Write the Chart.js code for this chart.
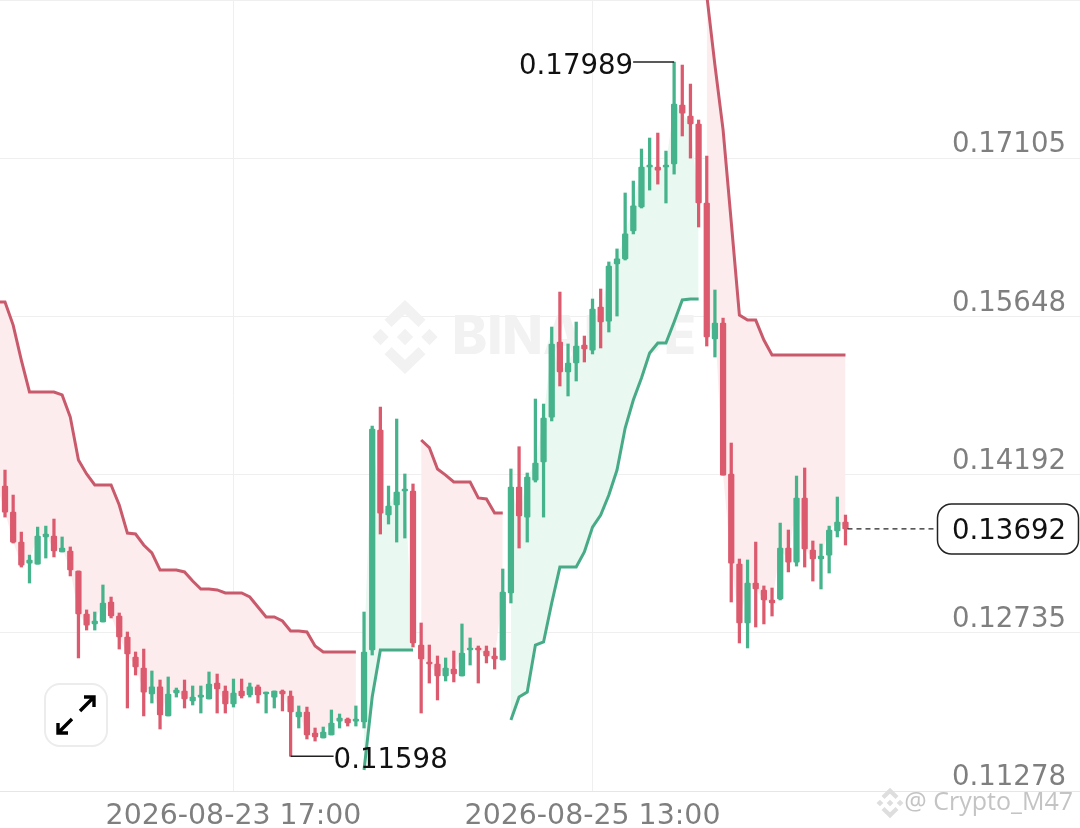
<!DOCTYPE html>
<html>
<head>
<meta charset="utf-8">
<title>Price chart</title>
<script src="https://cdn.jsdelivr.net/npm/chart.js@4/dist/chart.umd.min.js"></script>
<style>
    html, body { margin: 0; padding: 0; background: #fff; }
    #wrap { width: 1080px; height: 828px; }
</style>
</head>
<body>
<div id="wrap"><canvas id="priceChart" width="1080" height="828"></canvas></div>
<script>
// hourly candles, first one sits just off the left edge
const openPrices = [
    .14100,
    .14086,.13846,.13570,.13376,.13367,.13617,.13626,.13479,.13488,.13304,
    .12908,.12816,.12834,.13018,.12889,.12696,.12512,.12410,.12171,.12236,
    .11969,.12180,.12199,.12107,.12143,.12125,.12272,.12199,.12079,.12199,
    .12162,.12236,.12171,.12143,.12199,.12153,.11959,.12005,.11812,.11766,
    .11794,.11922,.11941,.11922,.11913,.12576,.14602,.13819,.13911,.14040,
    .14040,.12622,.12466,.12447,.12337,.12401,.12337,.12576,.12595,.12567,
    .12521,.12484,.13101,.14077,.13800,.14141,.14307,.14721,.15412,.15136,
    .15219,.15384,.15338,.15734,.15605,.16131,.16177,.16434,.16655,.17023,
    .17023,.17023,.17051,.17594,.17493,.17419,.16692,.15440,.15587,.14197,
    .13367,.12825,.13193,.13129,.13037,.13046,.13515,.13386,.13976,.13497,
    .13414,.13450,.13672,.13755
];
const closePrices = [
    .14086,
    .13846,.13570,.13358,.13405,.13626,.13644,.13488,.13515,.13313,.12908,
    .12806,.12843,.13009,.12889,.12696,.12539,.12420,.12189,.12236,.11978,
    .12171,.12208,.12125,.12143,.12162,.12263,.12217,.12079,.12180,.12153,
    .12236,.12162,.12189,.12199,.12171,.12005,.12005,.11794,.11775,.11821,
    .11904,.11950,.11904,.11941,.12558,.14611,.13837,.13902,.14031,.14058,
    .12641,.12493,.12447,.12337,.12410,.12355,.12549,.12595,.12576,.12521,
    .12493,.13110,.14077,.13810,.14169,.14298,.14712,.15394,.15136,.15219,
    .15375,.15348,.15716,.15596,.16112,.16177,.16407,.16665,.17023,.17041,
    .16995,.17041,.17603,.17520,.17419,.16692,.15458,.15587,.14187,.13376,
    .12825,.13193,.13138,.13037,.13009,.13515,.13386,.13976,.13506,.13414,
    .13442,.13681,.13755,.13692
];
const highPrices = [
    .14200,
    .14233,.14003,.13662,.13450,.13708,.13717,.13782,.13617,.13525,.13304,
    .12945,.12926,.13175,.13064,.12917,.12742,.12558,.12585,.12383,.12300,
    .12328,.12226,.12300,.12245,.12245,.12374,.12355,.12245,.12309,.12309,
    .12272,.12254,.12189,.12199,.12208,.12199,.12061,.12051,.11858,.11867,
    .12024,.11987,.11950,.12061,.12926,.14638,.14813,.14086,.14703,.14197,
    .14105,.12825,.12622,.12521,.12503,.12567,.12816,.12687,.12613,.12613,
    .12595,.13322,.14243,.14448,.14206,.14887,.14841,.15550,.15872,.15394,
    .15596,.15467,.15808,.15900,.16149,.16269,.16784,.16894,.17189,.17290,
    .17336,.17170,.17989,.17962,.17787,.17456,.17124,.15891,.15632,.14482,
    .13414,.13405,.13570,.13166,.13147,.13745,.13681,.14178,.14252,.13580,
    .13552,.13717,.13985,.13819
];
const lowPrices = [
    .14000,
    .13800,.13561,.13340,.13193,.13367,.13423,.13433,.13479,.13258,.12503,
    .12760,.12760,.12834,.12871,.12585,.12042,.12346,.11969,.12088,.11849,
    .11969,.12143,.12042,.12070,.11996,.12125,.11996,.11996,.12051,.12134,
    .12143,.12088,.11996,.12042,.12015,.11598,.11858,.11757,.11738,.11766,
    .11794,.11858,.11876,.11876,.11858,.12530,.13644,.13736,.13570,.13607,
    .12604,.11996,.12272,.12116,.12291,.12282,.12337,.12438,.12272,.12457,
    .12401,.12484,.13009,.13515,.13570,.14123,.13800,.14685,.15007,.14915,
    .15053,.15228,.15302,.15357,.15504,.15651,.16167,.16407,.16646,.16811,
    .16866,.16692,.16958,.17309,.17105,.16471,.15375,.15274,.14187,.13018,
    .12641,.12595,.12788,.12816,.12889,.13037,.13295,.13349,.13340,.13211,
    .13138,.13285,.13617,.13543
];

// supertrend stretches, each with the candle index it starts on
const trendDown1 = [
    .15781,.15781,.15568,.15246,.14952,.14952,.14952,.14952,.14925,.14721,.14325,
    .14197,.14096,.14096,.14096,.13911,.13653,.13644,.13543,.13470,.13313,
    .13313,.13313,.13295,.13211,.13138,.13138,.13129,.13101,.13101,.13101,
    .13064,.12972,.12880,.12880,.12843,.12751,.12751,.12742,.12613,.12558,
    .12558,.12558,.12558,.12558
];
const trendUp1 = [.11471,.12143,.12576,.12576,.12576,.12576,.12576];
const trendDown2 = [.14510,.14440,.14243,.14187,.14123,.14123,.14123,.13976,.13967,.13837,.13837];
const trendUp2 = [
    .11932,.12143,.12189,.12622,.12650,.13009,.13340,.13340,.13340,.13479,.13708,.13819,
    .14003,.14233,.14620,.14878,.15081,.15311,.15403,.15403,.15596,.15799,.15808,.15808
];
const trendDown3 = [
    .18607,.17962,.17365,.16517,.15660,.15614,.15614,.15430,
    .15292,.15292,.15292,.15292,.15292,.15292,.15292,.15292,.15292,.15292
];
const trendStarts = [0, 45, 52, 63, 87];

const priceTicks = [0.11278, 0.12735, 0.14192, 0.15648, 0.17105];
const topPrice = 0.18561;
const timeTickIndex = [29, 73];
const timeTickLabels = ['2026-08-23 17:00', '2026-08-25 13:00'];

const UP_COLOR = '#45b38b';
const DOWN_COLOR = '#dc5a6e';
const UP_LINE = '#47ab88';
const DOWN_LINE = '#c95a6c';
const UP_FILL = '#e9f8f1';
const DOWN_FILL = '#fdecee';
const FONT_FAMILY = '"DejaVu Sans", sans-serif';
const LABEL_SIZE = 27.6;

const candleColors = closePrices.map((c, i) => c >= openPrices[i] ? UP_COLOR : DOWN_COLOR);

function makeTrend(values, start, lineColor, fillColor) {
    return {
        type: 'line',
        data: values.map((v, i) => ({ x: start + i, y: v })),
        borderColor: lineColor,
        borderWidth: 3,
        pointRadius: 0,
        tension: 0,
        order: 4,
        fill: { target: 0, above: fillColor, below: fillColor }
    };
}

function drawDiamondLogo(ctx, cx, cy, r, color) {
    // four small squares and two chevrons
    const square = (x, y, s) => {
        ctx.beginPath();
        ctx.moveTo(x, y - s);
        ctx.lineTo(x + s, y);
        ctx.lineTo(x, y + s);
        ctx.lineTo(x - s, y);
        ctx.closePath();
        ctx.fill();
    };
    ctx.fillStyle = color;
    square(cx, cy, r * 0.24);
    square(cx - r * 0.72, cy, r * 0.24);
    square(cx + r * 0.72, cy, r * 0.24);
    ctx.strokeStyle = color;
    ctx.lineWidth = r * 0.3;
    ctx.beginPath();
    ctx.moveTo(cx - r * 0.5, cy - r * 0.4);
    ctx.lineTo(cx, cy - r * 0.88);
    ctx.lineTo(cx + r * 0.5, cy - r * 0.4);
    ctx.moveTo(cx - r * 0.5, cy + r * 0.4);
    ctx.lineTo(cx, cy + r * 0.88);
    ctx.lineTo(cx + r * 0.5, cy + r * 0.4);
    ctx.stroke();
}

const watermarkPlugin = {
    id: 'watermark',
    beforeDatasetsDraw(chart) {
        const ctx = chart.ctx;
        ctx.save();
        drawDiamondLogo(ctx, 405, 337, 34, '#f2f2f2');
        ctx.fillStyle = '#f2f2f2';
        ctx.font = '800 53px Inter, sans-serif';
        ctx.textAlign = 'left';
        ctx.textBaseline = 'middle';
        ctx.fillText('BINANCE', 452, 338);
        ctx.restore();
    }
};

const annotationPlugin = {
    id: 'annotations',
    afterDraw(chart) {
        const ctx = chart.ctx;
        const xs = chart.scales.x;
        const ys = chart.scales.y;
        const maxHigh = Math.max(...highPrices);
        const minLow = Math.min(...lowPrices);
        const lastIndex = closePrices.length - 1;
        const lastClose = closePrices[lastIndex];

        ctx.save();
        ctx.font = LABEL_SIZE + 'px ' + FONT_FAMILY;
        ctx.fillStyle = '#111';
        ctx.strokeStyle = '#222';
        ctx.lineWidth = 1.5;
        ctx.textBaseline = 'middle';

        // highest price
        const hx = xs.getPixelForValue(highPrices.indexOf(maxHigh));
        const hy = ys.getPixelForValue(maxHigh);
        ctx.beginPath();
        ctx.moveTo(hx, hy);
        ctx.lineTo(hx - 41, hy);
        ctx.stroke();
        ctx.textAlign = 'right';
        ctx.fillText(maxHigh.toFixed(5), hx - 41, hy + 5);

        // lowest price
        const lx = xs.getPixelForValue(lowPrices.indexOf(minLow));
        const ly = ys.getPixelForValue(minLow);
        ctx.beginPath();
        ctx.moveTo(lx, ly);
        ctx.lineTo(lx + 43, ly);
        ctx.stroke();
        ctx.textAlign = 'left';
        ctx.fillText(minLow.toFixed(5), lx + 43, ly + 5);

        // last price tag
        const py = ys.getPixelForValue(lastClose);
        ctx.setLineDash([5, 4]);
        ctx.lineWidth = 1.2;
        ctx.beginPath();
        ctx.moveTo(xs.getPixelForValue(lastIndex) + 2, py);
        ctx.lineTo(937, py);
        ctx.stroke();
        ctx.setLineDash([]);
        ctx.lineWidth = 1.5;
        ctx.beginPath();
        ctx.roundRect(937.5, 504, 141, 50, 14);
        ctx.fillStyle = '#fff';
        ctx.fill();
        ctx.stroke();
        ctx.fillStyle = '#111';
        ctx.textAlign = 'center';
        ctx.fillText(lastClose.toFixed(5), 1009, py + 3);

        // expand button
        ctx.strokeStyle = '#ececec';
        ctx.lineWidth = 2;
        ctx.beginPath();
        ctx.roundRect(45, 684, 62, 62, 15);
        ctx.fillStyle = '#fff';
        ctx.fill();
        ctx.stroke();
        ctx.strokeStyle = '#000';
        ctx.lineWidth = 3.4;
        ctx.beginPath();
        ctx.moveTo(80, 711);
        ctx.lineTo(94, 697);
        ctx.moveTo(84, 697);
        ctx.lineTo(94, 697);
        ctx.lineTo(94, 707);
        ctx.moveTo(72, 719);
        ctx.lineTo(58, 733);
        ctx.moveTo(58, 723);
        ctx.lineTo(58, 733);
        ctx.lineTo(68, 733);
        ctx.stroke();

        // author watermark
        drawDiamondLogo(ctx, 890, 803, 14, '#dedede');
        ctx.fillStyle = '#c4c4c4';
        ctx.font = '25px "Open Sans", sans-serif';
        ctx.textAlign = 'right';
        ctx.fillText('@ Crypto_M47', 1073, 803);
        ctx.restore();
    }
};

const ctx = document.getElementById('priceChart').getContext('2d');
const priceChart = new Chart(ctx, {
    type: 'bar',
    data: {
        datasets: [
            {
                // base the supertrend bands fill towards
                type: 'line',
                data: closePrices.map((c, i) => ({ x: i, y: c })),
                borderWidth: 0,
                borderColor: 'transparent',
                pointRadius: 0,
                tension: 0,
                fill: false,
                order: 5
            },
            makeTrend(trendDown1, trendStarts[0], DOWN_LINE, DOWN_FILL),
            makeTrend(trendUp1, trendStarts[1], UP_LINE, UP_FILL),
            makeTrend(trendDown2, trendStarts[2], DOWN_LINE, DOWN_FILL),
            makeTrend(trendUp2, trendStarts[3], UP_LINE, UP_FILL),
            makeTrend(trendDown3, trendStarts[4], DOWN_LINE, DOWN_FILL),
            {
                // wicks
                data: lowPrices.map((l, i) => ({ x: i, y: [l, highPrices[i]] })),
                backgroundColor: candleColors,
                barThickness: 2.6,
                grouped: false,
                order: 2
            },
            {
                // bodies
                data: openPrices.map((o, i) => ({ x: i, y: [o, closePrices[i]] })),
                backgroundColor: candleColors,
                barThickness: 5.6,
                borderRadius: 1,
                borderSkipped: false,
                grouped: false,
                order: 1
            }
        ]
    },
    options: {
        responsive: false,
        animation: false,
        layout: { padding: 0 },
        plugins: {
            legend: { display: false },
            tooltip: { enabled: false }
        },
        scales: {
            x: {
                type: 'linear',
                offset: false,
                min: 0.387,
                max: 132.74,
                afterBuildTicks: function(scale) {
                    scale.ticks = timeTickIndex.map(v => ({ value: v }));
                },
                afterFit: function(scale) {
                    scale.height = 37;
                    scale.paddingLeft = 0;
                    scale.paddingRight = 0;
                },
                grid: { color: '#efefef', drawTicks: false, offset: false },
                border: { color: '#e6e6e6' },
                ticks: {
                    maxRotation: 0,
                    autoSkip: false,
                    padding: 9,
                    color: '#7f7f7f',
                    font: { family: FONT_FAMILY, size: 28.4 },
                    callback: function(value) {
                        return timeTickLabels[timeTickIndex.indexOf(value)];
                    }
                }
            },
            y: {
                position: 'right',
                min: priceTicks[0],
                max: topPrice,
                afterBuildTicks: function(scale) {
                    scale.ticks = priceTicks.concat([topPrice]).map(v => ({ value: v }));
                },
                afterFit: function(scale) {
                    scale.width = 0;
                    scale.paddingTop = 0;
                    scale.paddingBottom = 0;
                },
                grid: { color: '#efefef', drawTicks: false },
                border: { display: false },
                ticks: {
                    mirror: true,
                    padding: -14,
                    labelOffset: -13,
                    autoSkip: false,
                    color: '#7f7f7f',
                    font: { family: FONT_FAMILY, size: LABEL_SIZE },
                    callback: function(value) {
                        return priceTicks.includes(value) ? value.toFixed(5) : '';
                    }
                }
            }
        }
    },
    plugins: [watermarkPlugin, annotationPlugin]
});
</script>
</body>
</html>
